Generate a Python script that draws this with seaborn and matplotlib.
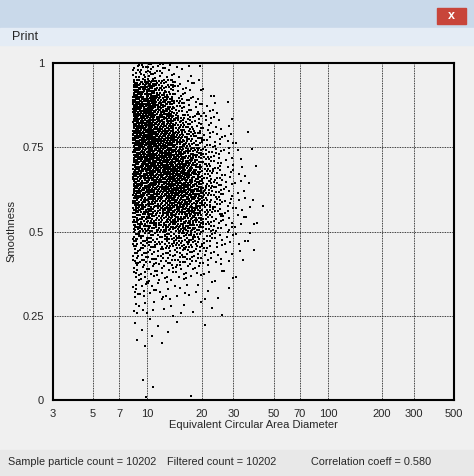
import numpy as np
import matplotlib
matplotlib.use("Agg")
import matplotlib.pyplot as plt
import seaborn as sns
import pandas as pd
from matplotlib.patches import Rectangle

# density table: rows = smoothness bins (top->bottom), cols = diameter bins
x_edges = [8.3, 9, 10, 11, 12.5, 14, 16, 18, 20, 23, 26, 30, 35, 40, 45]
y_edges = [1.0, 0.95, 0.90, 0.85, 0.80, 0.75, 0.70, 0.65, 0.60, 0.55, 0.50,
           0.45, 0.40, 0.35, 0.30, 0.25, 0.20, 0.15, 0.10, 0.05, 0.0]
counts = [
    [8, 12, 12, 10, 6, 4, 2, 1, 0, 0, 0, 0, 0, 0],
    [25, 30, 30, 25, 18, 9, 5, 3, 2, 1, 0, 0, 0, 0],
    [30, 36, 36, 34, 28, 17, 9, 6, 4, 3, 1, 0, 0, 0],
    [32, 38, 40, 40, 36, 25, 15, 10, 7, 4, 2, 0, 0, 0],
    [32, 38, 42, 45, 44, 36, 22, 15, 11, 7, 4, 1, 1, 0],
    [30, 36, 40, 46, 48, 44, 30, 20, 15, 9, 5, 2, 1, 0],
    [28, 33, 38, 44, 50, 50, 36, 25, 19, 11, 6, 3, 1, 0],
    [27, 30, 34, 40, 46, 50, 40, 28, 22, 13, 7, 4, 1, 0],
    [25, 27, 28, 32, 38, 42, 36, 28, 21, 13, 7, 4, 2, 1],
    [20, 21, 21, 25, 30, 33, 28, 22, 17, 10, 7, 4, 2, 1],
    [15, 14, 14, 16, 19, 22, 20, 15, 12, 7, 5, 3, 2, 0],
    [11, 10, 9, 11, 12, 14, 12, 9, 7, 5, 3, 2, 1, 0],
    [8, 7, 6, 7, 6, 6, 5, 4, 3, 2, 2, 1, 0, 0],
    [6, 5, 4, 4, 3, 3, 3, 2, 2, 1, 1, 0, 0, 0],
    [4, 3, 2, 2, 2, 2, 1, 1, 1, 1, 0, 0, 0, 0],
    [1, 1, 1, 1, 1, 1, 0, 0, 1, 0, 0, 0, 0, 0],
    [1, 1, 1, 1, 0, 0, 0, 0, 0, 0, 0, 0, 0, 0],
    [0, 0, 0, 0, 0, 0, 0, 0, 0, 0, 0, 0, 0, 0],
    [0, 1, 0, 0, 0, 0, 0, 0, 0, 0, 0, 0, 0, 0],
    [0, 1, 1, 0, 0, 0, 1, 0, 0, 0, 0, 0, 0, 0],
]
x_ticks = [3, 5, 7, 10, 20, 30, 50, 70, 100, 200, 300, 500]
y_ticks = [0, 0.25, 0.5, 0.75, 1]
y_labels = ["0", "0.25", "0.5", "0.75", "1"]
status = ["Sample particle count = 10202", "Filtered count = 10202", "Correlation coeff = 0.580"]

# spread each cell's count over the cell with a low-discrepancy lattice
xs, ys = [], []
g1, g2 = 0.7548776662, 0.5698402910
for r, row in enumerate(counts):
    y_hi, y_lo = y_edges[r], y_edges[r + 1]
    for c, n in enumerate(row):
        lx0, lx1 = np.log10(x_edges[c]), np.log10(x_edges[c + 1])
        for k in range(n):
            u = (0.37 * r + (k + 1) * g1) % 1
            v = (0.61 * c + (k + 1) * g2) % 1
            xs.append(10 ** (lx0 + u * (lx1 - lx0)))
            ys.append(y_lo + v * (y_hi - y_lo))
df = pd.DataFrame({"d": xs, "s": ys})

sns.set_style("white")
plt.rcParams['font.family'] = ['Liberation Sans', 'DejaVu Sans']
fig = plt.figure(figsize=(4.74, 4.76), dpi=100)
fig.patch.set_facecolor("#f0f0f0")
# window chrome
fig.patches.append(Rectangle((0, 1 - 28 / 476), 1, 28 / 476, transform=fig.transFigure, color="#c9d9ea", zorder=0))
fig.patches.append(Rectangle((0, 1 - 45 / 476), 1, 17 / 476, transform=fig.transFigure, color="#e4ecf5", zorder=0))
fig.patches.append(Rectangle((437 / 474, 1 - 24 / 476), 29 / 474, 16 / 476, transform=fig.transFigure, color="#c8453a", zorder=1))
fig.text(451 / 474, 1 - 16 / 476, "x", color="white", ha="center", va="center", fontsize=9, fontweight="bold")
fig.text(12 / 474, 1 - 37 / 476, "Print", fontsize=9, va="center")
fig.patches.append(Rectangle((0, 0), 1, 26 / 476, transform=fig.transFigure, color="#e8e8e8", zorder=0))
fig.text(8 / 474, 14 / 476, status[0], fontsize=7.8, va="center")
fig.text(167 / 474, 14 / 476, status[1], fontsize=7.8, va="center")
fig.text(311 / 474, 14 / 476, status[2], fontsize=7.8, va="center")

ax = fig.add_axes([53 / 474, 1 - 400 / 476, 401 / 474, 337 / 476])
ax.set_facecolor("#f0f0f0")
sns.scatterplot(data=df, x="d", y="s", ax=ax, color="black", s=0.9, marker="s", linewidth=0, legend=False)
ax.set_xscale("log")
ax.set_xlim(3, 500)
ax.set_ylim(0, 1)
ax.set_xticks(x_ticks)
ax.set_xticklabels([str(t) for t in x_ticks])
ax.minorticks_off()
ax.set_yticks(y_ticks)
ax.set_yticklabels(y_labels)
ax.tick_params(labelsize=8, length=3, color="black")
ax.grid(True, color="black", linestyle=(0, (1, 1)), linewidth=0.6)
for sp in ax.spines.values():
    sp.set_color("black")
    sp.set_linewidth(1.5)
ax.set_xlabel("Equivalent Circular Area Diameter", fontsize=8, labelpad=1)
ax.set_ylabel("Smoothness", fontsize=8)
fig.savefig("out.png", dpi=100, facecolor=fig.get_facecolor())
